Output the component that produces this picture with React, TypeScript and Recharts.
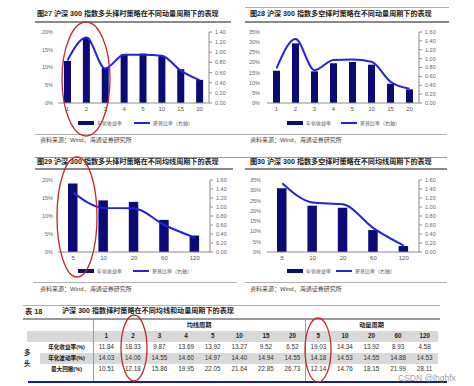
import React from 'react';
import { ComposedChart, Bar, Line, XAxis, YAxis } from 'recharts';

// chart categories
const momentumPeriods = ['1', '2', '3', '4', '5', '10', '15', '20'];
const maPeriods = ['5', '10', '20', '60', '120'];

// 图27 多头 / 动量
const longMomReturn = [11.84, 18.33, 9.87, 13.69, 13.92, 13.27, 9.52, 6.52];
const longMomSharpe = [0.84, 1.29, 0.68, 0.95, 0.95, 0.93, 0.64, 0.45];
// 图28 多空 / 动量
const lsMomReturn = [15.9, 29.4, 15.6, 19.6, 20.2, 18.9, 9.5, 6.7];
const lsMomSharpe = [0.78, 1.44, 0.74, 0.97, 0.98, 0.93, 0.48, 0.32];
// 图29 多头 / 均线
const longMaReturn = [19.03, 14.34, 13.92, 8.93, 4.58];
const longMaSharpe = [1.32, 0.98, 0.97, 0.6, 0.32];
// 图30 多空 / 均线
const lsMaReturn = [31.0, 22.5, 21.5, 10.7, 2.9];
const lsMaSharpe = [1.53, 1.1, 1.06, 0.53, 0.14];

const pct20Ticks = [0, 5, 10, 15, 20];
const pct35Ticks = [0, 5, 10, 15, 20, 25, 30, 35];
const ratio14Ticks = [0, 0.2, 0.4, 0.6, 0.8, 1.0, 1.2, 1.4];
const ratio16Ticks = [0, 0.2, 0.4, 0.6, 0.8, 1.0, 1.2, 1.4, 1.6];

// 表18
const maHeader = ['1', '2', '3', '4', '5', '10', '15', '20'];
const momHeader = ['5', '10', '20', '60', '120'];
const rowLabels = ['年化收益率(%)', '年化波动率(%)', '最大回撤(%)'];
const annualReturn = ['11.84', '18.33', '9.87', '13.69', '13.92', '13.27', '9.52', '6.52', '19.03', '14.34', '13.92', '8.93', '4.58'];
const annualVol = ['14.03', '14.06', '14.55', '14.60', '14.97', '14.40', '14.94', '14.55', '14.18', '14.53', '14.55', '14.88', '14.53'];
const maxDrawdown = ['10.51', '12.18', '15.86', '19.95', '22.05', '21.64', '22.85', '26.73', '12.14', '14.76', '18.15', '21.99', '28.11'];

const CJK = '"Liberation Sans", "Noto Sans CJK SC", sans-serif';
const BAR = '#0b0b78';
const LINE = '#2323d8';

interface MiniProps {
  left: number;
  plotTop: number;
  plotH: number;
  plotLeft: number;
  plotRight: number;
  cats: string[];
  bars: number[];
  line: number[];
  barMax: number;
  barTicks: number[];
  lineMax: number;
  lineTicks: number[];
  barSize: number;
  leftGap: number;
}

const MiniChart: React.FC<MiniProps> = (p: MiniProps) => {
  const W = 237;
  const padTop = 6;
  const xH = 14;
  const data = p.cats.map((c, i) => ({ name: c, ret: p.bars[i], sharpe: p.line[i] }));
  return (
    <div style={{ position: 'absolute', left: p.left, top: p.plotTop - padTop }}>
      <ComposedChart width={W} height={padTop + p.plotH + xH} data={data} margin={{ top: padTop, right: 0, bottom: 0, left: 0 }}>
        <XAxis
          dataKey="name"
          height={xH}
          interval={0}
          axisLine={{ stroke: '#8c8c8c' }}
          tickLine={false}
          tickSize={2}
          tickMargin={2}
          tick={{ fill: '#555', fontSize: 6 }}
        />
        <YAxis
          yAxisId="l"
          width={p.plotLeft - p.left}
          domain={[0, p.barMax]}
          ticks={p.barTicks}
          interval={0}
          tickFormatter={(v: number) => `${v}%`}
          axisLine={false}
          tickLine={false}
          tickSize={p.leftGap - 2}
          tickMargin={2}
          tick={{ fill: '#666', fontSize: 5.5 }}
        />
        <YAxis
          yAxisId="r"
          orientation="right"
          width={p.left + W - p.plotRight}
          domain={[0, p.lineMax]}
          ticks={p.lineTicks}
          interval={0}
          tickFormatter={(v: number) => v.toFixed(2)}
          axisLine={{ stroke: '#8c8c8c' }}
          tickLine={{ stroke: '#8c8c8c' }}
          tickSize={3}
          tickMargin={3}
          tick={{ fill: '#666', fontSize: 5.5 }}
        />
        <Bar yAxisId="l" dataKey="ret" fill={BAR} barSize={p.barSize} isAnimationActive={false} />
        <Line yAxisId="r" dataKey="sharpe" type="monotone" stroke={LINE} strokeWidth={2} dot={false} isAnimationActive={false} />
      </ComposedChart>
    </div>
  );
};

const Rule = ({ x1, x2, y, h = 1, c = '#9a9a9a' }: { x1: number; x2: number; y: number; h?: number; c?: string }) => (
  <div style={{ position: 'absolute', left: x1, top: y, width: x2 - x1, height: h, background: c }} />
);

const Txt = ({ x, y, size, children, bold, color = '#222', w, align }: any) => (
  <div
    style={{
      position: 'absolute',
      left: x,
      top: y - size * 0.7,
      width: w,
      textAlign: align || 'left',
      fontSize: size,
      lineHeight: `${size * 1.4}px`,
      fontWeight: bold ? 700 : 400,
      color,
      whiteSpace: 'nowrap',
    }}
  >
    {children}
  </div>
);

const Legend = ({ x, y, lx }: { x: number; y: number; lx: number }) => (
  <>
    <div style={{ position: 'absolute', left: x, top: y - 2, width: 16, height: 4, background: BAR }} />
    <Txt x={x + 19} y={y} size={5} color="#555">年化收益率</Txt>
    <div style={{ position: 'absolute', left: lx, top: y - 1, width: 16, height: 2, background: LINE }} />
    <Txt x={lx + 19} y={y} size={5} color="#555">夏普比率（右轴）</Txt>
  </>
);

const SOURCE = '资料来源：Wind，海通证券研究所';

const colX = (i: number) => (i < 8 ? 93 + 26.6 * i : 305 + 26.6 * (i - 8));

export default function App() {
  const rows = [annualReturn, annualVol, maxDrawdown];
  const header = [...maHeader, ...momHeader];
  return (
    <div style={{ position: 'absolute', left: 0, top: 0, width: 474, height: 386, background: '#fff', overflow: 'hidden', fontFamily: CJK }}>
      {/* 图27 */}
      <Txt x={37} y={15} size={7.1} bold>图27 沪深 300 指数多头择时策略在不同动量周期下的表现</Txt>
      <Rule x1={35} x2={231} y={21} h={1.5} c="#8a8a8a" />
      <MiniChart left={0} plotTop={32} plotH={71} plotLeft={58} plotRight={209} cats={momentumPeriods} bars={longMomReturn} line={longMomSharpe} barMax={20} barTicks={pct20Ticks} lineMax={1.4} lineTicks={ratio14Ticks} barSize={7} leftGap={5} />
      <Legend x={78} y={123} lx={134} />
      <Rule x1={35} x2={237} y={134} c="#b0b0b0" />
      <Txt x={40} y={140} size={6} color="#444">{SOURCE}</Txt>

      {/* 图28 */}
      <Rule x1={245} x2={449} y={7} c="#b0b0b0" />
      <Txt x={250} y={15} size={7.1} bold>图28 沪深 300 指数多空择时策略在不同动量周期下的表现</Txt>
      <Rule x1={245} x2={449} y={21} h={1.5} c="#8a8a8a" />
      <MiniChart left={237} plotTop={32} plotH={71} plotLeft={267} plotRight={419} cats={momentumPeriods} bars={lsMomReturn} line={lsMomSharpe} barMax={35} barTicks={pct35Ticks} lineMax={1.6} lineTicks={ratio16Ticks} barSize={7} leftGap={7} />
      <Legend x={287} y={123} lx={341} />
      <Rule x1={237} x2={447} y={134} c="#b0b0b0" />
      <Txt x={250} y={140} size={6} color="#444">{SOURCE}</Txt>

      {/* 图29 */}
      <Rule x1={35} x2={447} y={157} c="#9a9a9a" />
      <Txt x={37} y={163} size={7.1} bold>图29 沪深 300 指数多头择时策略在不同均线周期下的表现</Txt>
      <Rule x1={35} x2={233} y={168} h={1.5} c="#8a8a8a" />
      <MiniChart left={0} plotTop={180} plotH={72} plotLeft={58} plotRight={210} cats={maPeriods} bars={longMaReturn} line={longMaSharpe} barMax={20} barTicks={pct20Ticks} lineMax={1.6} lineTicks={ratio16Ticks} barSize={9.5} leftGap={5} />
      <Legend x={78} y={271} lx={133} />
      <Rule x1={33} x2={237} y={282} c="#b0b0b0" />
      <Txt x={40} y={289} size={6} color="#444">{SOURCE}</Txt>

      {/* 图30 */}
      <Txt x={250} y={163} size={7.1} bold>图30 沪深 300 指数多空择时策略在不同均线周期下的表现</Txt>
      <Rule x1={245} x2={447} y={168} h={1.5} c="#8a8a8a" />
      <MiniChart left={237} plotTop={180} plotH={72} plotLeft={267} plotRight={419} cats={maPeriods} bars={lsMaReturn} line={lsMaSharpe} barMax={35} barTicks={pct35Ticks} lineMax={1.6} lineTicks={ratio16Ticks} barSize={9.5} leftGap={6} />
      <Legend x={287} y={271} lx={336} />
      <Rule x1={245} x2={447} y={282} c="#b0b0b0" />
      <Txt x={250} y={289} size={6} color="#444">{SOURCE}</Txt>

      {/* 表18 */}
      <Rule x1={23} x2={440} y={305} c="#b0b0b0" />
      <Txt x={25} y={312} size={7.2} bold>表 18</Txt>
      <Txt x={62} y={312} size={7.1} bold>沪深 300 指数择时策略在不同均线和动量周期下的表现</Txt>
      <Rule x1={23} x2={440} y={318} h={1.5} c="#9a9a9a" />
      <Txt x={93} w={212} align="center" y={325} size={6.2} bold>均线周期</Txt>
      <Txt x={305} w={133} align="center" y={325} size={6.2} bold>动量周期</Txt>
      <div style={{ position: 'absolute', left: 27, top: 331, width: 411, height: 11, background: '#d9d9d9' }} />
      <div style={{ position: 'absolute', left: 40, top: 353, width: 398, height: 11, background: '#d9d9d9' }} />
      {header.map((h, i) => (
        <Txt key={`h${i}`} x={colX(i)} w={26.6} align="center" y={336.5} size={6.3} bold>{h}</Txt>
      ))}
      {rows.map((r, ri) => (
        <React.Fragment key={`r${ri}`}>
          <Txt x={40} w={53} align="center" y={347.5 + ri * 11} size={5.6} bold color="#111">{rowLabels[ri]}</Txt>
          {r.map((v, i) => (
            <Txt key={`c${ri}-${i}`} x={colX(i)} w={26.6} align="center" y={347.5 + ri * 11} size={6.3} color="#333">{v}</Txt>
          ))}
        </React.Fragment>
      ))}
      <Txt x={24} y={353} size={6.5} bold>多</Txt>
      <Txt x={24} y={364} size={6.5} bold>头</Txt>
      <div style={{ position: 'absolute', left: 93, top: 318, width: 1, height: 63, background: '#9a9a9a' }} />
      <div style={{ position: 'absolute', left: 305, top: 318, width: 1, height: 63, background: '#9a9a9a' }} />
      <Rule x1={28} x2={447} y={381} h={2} c="#1c1c8c" />

      <Txt x={398} y={379} size={8.5} color="rgba(140,140,140,0.85)">CSDN @lhghfx</Txt>

      {/* 红圈 */}
      <svg width={474} height={386} style={{ position: 'absolute', left: 0, top: 0, pointerEvents: 'none' }}>
        <g fill="none" stroke="#c8262c" strokeWidth={1.3}>
          <ellipse cx={86} cy={79} rx={24} ry={57} />
          <ellipse cx={77} cy={217} rx={20} ry={60} />
          <ellipse cx={134} cy={348} rx={13} ry={33} />
          <ellipse cx={318} cy={350} rx={13} ry={32} />
        </g>
      </svg>
    </div>
  );
}
